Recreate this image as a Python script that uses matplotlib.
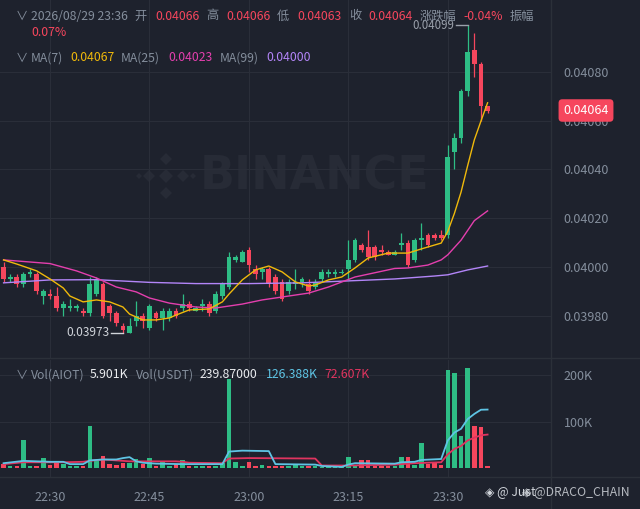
import numpy as np
import matplotlib
matplotlib.use('Agg')
import matplotlib.pyplot as plt
from matplotlib.patches import Polygon
from matplotlib.lines import Line2D

plt.rcParams['font.family'] = ['Noto Sans CJK SC', 'DejaVu Sans']

# candles, index = minutes from 22:30 (1m bars 22:23 .. 23:36)
idx = np.arange(-7, 67)
opens = [0.04000, 0.03995, 0.03996, 0.03993, 0.03997, 0.03997, 0.03988, 0.03989, 0.03988, 0.03983,
         0.03983, 0.03983, 0.03982, 0.03981, 0.03989, 0.03993, 0.03984, 0.03981, 0.03976, 0.03973,
         0.03978, 0.03980, 0.03975, 0.03981, 0.03979, 0.03979, 0.03982, 0.03983, 0.03985, 0.03982,
         0.03984, 0.03985, 0.03982, 0.03988, 0.03992, 0.04003, 0.04002, 0.04007, 0.03999, 0.03998,
         0.03999, 0.03996, 0.03994, 0.03990, 0.03993, 0.03994, 0.03993, 0.03992, 0.03995, 0.03997,
         0.03997, 0.039975, 0.03999, 0.04003, 0.04009, 0.04008, 0.04008, 0.04007, 0.04006, 0.04005,
         0.04009, 0.04010, 0.04003, 0.04011, 0.04013, 0.04013, 0.04013, 0.04013, 0.04047, 0.04053,
         0.04072, 0.04089, 0.04083, 0.04066]
highs = [0.04002, 0.03997, 0.03997, 0.03998, 0.03999, 0.03998, 0.03991, 0.03991, 0.03992, 0.03986,
         0.03987, 0.03985, 0.03983, 0.03996, 0.03996, 0.03994, 0.03985, 0.03982, 0.03977, 0.03979,
         0.03986, 0.03981, 0.03985, 0.03982, 0.03983, 0.03983, 0.03983, 0.03989, 0.03986, 0.03984,
         0.03987, 0.03986, 0.03990, 0.03994, 0.04006, 0.04005, 0.04007, 0.04008, 0.04001, 0.04000,
         0.04000, 0.03997, 0.03995, 0.03995, 0.03999, 0.03996, 0.03995, 0.03995, 0.03999, 0.03999,
         0.03999, 0.03999, 0.04011, 0.04012, 0.04010, 0.04015, 0.04009, 0.04009, 0.04007, 0.04007,
         0.04014, 0.04011, 0.04012, 0.04018, 0.04014, 0.04014, 0.04015, 0.04050, 0.04055, 0.04073,
         0.04099, 0.04096, 0.04084, 0.04066]
lows = [0.03994, 0.03994, 0.03992, 0.03992, 0.03996, 0.03989, 0.03985, 0.03987, 0.03982, 0.03980,
        0.03982, 0.03982, 0.03980, 0.03980, 0.03988, 0.03979, 0.03978, 0.03976, 0.03973, 0.03973,
        0.03976, 0.03975, 0.03974, 0.03978, 0.03974, 0.03978, 0.03979, 0.03982, 0.03982, 0.03982,
        0.03982, 0.03980, 0.03981, 0.03987, 0.03991, 0.04002, 0.04002, 0.03998, 0.03995, 0.03995,
        0.03992, 0.03989, 0.03986, 0.03989, 0.03991, 0.03992, 0.03989, 0.03991, 0.03994, 0.03996,
        0.03996, 0.03997, 0.03995, 0.04002, 0.04006, 0.04003, 0.04003, 0.04005, 0.04005, 0.04005,
        0.04007, 0.04000, 0.04002, 0.04007, 0.04008, 0.04011, 0.04011, 0.04012, 0.04040, 0.04051,
        0.04070, 0.04078, 0.04060, 0.04063]
closes = [0.03995, 0.03996, 0.03993, 0.03997, 0.03998, 0.03990, 0.03990, 0.03988, 0.03983, 0.03985,
          0.03984, 0.03984, 0.03981, 0.03993, 0.03995, 0.03980, 0.03981, 0.03977, 0.03974, 0.03976,
          0.03980, 0.03978, 0.03984, 0.03979, 0.03982, 0.03982, 0.03980, 0.03985, 0.03983, 0.03983,
          0.03985, 0.03981, 0.03989, 0.03993, 0.04004, 0.04004, 0.04006, 0.04001, 0.03997, 0.03999,
          0.03993, 0.03990, 0.03987, 0.03994, 0.03994, 0.03995, 0.03990, 0.03994, 0.03998, 0.03998,
          0.03998, 0.03998, 0.04003, 0.04011, 0.04007, 0.04004, 0.04004, 0.04006, 0.04005, 0.04006,
          0.04010, 0.04001, 0.04011, 0.04012, 0.04009, 0.04012, 0.04012, 0.04045, 0.04053, 0.04072,
          0.04088, 0.04083, 0.04066, 0.04064]
volumes = [9, 6, 6, 61, 4, 4, 22, 7, 13, 9, 4, 4, 4, 92, 16, 27, 9, 7, 11, 11,
           20, 9, 22, 6, 13, 5, 9, 18, 6, 4, 6, 6, 6, 11, 192, 14, 4, 13, 5, 7,
           4, 5, 4, 6, 10, 5, 4, 4, 3, 3, 2, 3, 24, 6, 17, 17, 6, 5, 6, 4,
           25, 25, 8, 55, 10, 14, 7, 212, 204, 70, 216, 92, 88, 5.9]

# moving averages (index, value)
ma7_idx = [-7, -5, -2, 0, 2, 3, 5, 7, 9, 11, 12, 14, 16, 18, 19, 21, 24, 26, 27, 29, 31, 33, 35,
           37, 39, 40, 42, 44, 46, 48, 51, 54, 56, 59, 60, 61, 62, 63, 64, 65, 66]
ma7_val = [0.040029, 0.040012, 0.039984, 0.039951, 0.039914, 0.039881, 0.039857, 0.039865, 0.039857,
           0.039836, 0.039807, 0.039783, 0.039783, 0.039791, 0.039803, 0.039824, 0.039828, 0.039857,
           0.039889, 0.039947, 0.039988, 0.040004, 0.039980, 0.039939, 0.039922, 0.039926, 0.039947,
           0.039959, 0.039996, 0.040037, 0.040057, 0.040057, 0.040074, 0.040098, 0.040146, 0.040220,
           0.040307, 0.040416, 0.040521, 0.040598, 0.040673]
ma25_idx = [-7, 0, 4, 7, 10, 13, 15, 18, 22, 25, 29, 32, 36, 39, 42, 46, 52, 54, 57, 59,
            60, 61, 62, 63, 64, 65, 66]
ma25_val = [0.040029, 0.040014, 0.039984, 0.039955, 0.039918, 0.039898, 0.039873, 0.039852, 0.039836,
            0.039832, 0.039848, 0.039865, 0.039881, 0.039893, 0.039918, 0.039959, 0.039994, 0.039996,
            0.040008, 0.040029, 0.040050, 0.040080, 0.040110, 0.040150, 0.040190, 0.040210, 0.040230]
ma99_idx = [-7, 0, 7, 15, 22, 30, 38, 45, 52, 58, 60, 63, 66]
ma99_val = [0.039935, 0.039947, 0.039948, 0.039937, 0.039932, 0.039932, 0.039935, 0.039943,
            0.039951, 0.039963, 0.039968, 0.039988, 0.040004]

vma5_idx = [-7, -4, 0, 2, 3, 5, 6, 8, 10, 11, 12, 13, 14, 16, 20, 26, 27, 29, 33, 34, 40, 41, 44,
            45, 46, 52, 53, 55, 56, 59, 60, 61, 62, 63, 64, 65, 66]
vma5_val = [11, 16, 14, 14, 9, 9, 17, 19, 19, 22, 24, 15, 12, 10, 9, 9, 36, 38, 37, 9, 8, 5, 3,
            8, 11, 10, 13, 14, 18, 20, 60, 77, 85, 106, 117, 126, 126.388]
vma10_idx = [-7, -4, 2, 5, 6, 8, 10, 12, 19, 20, 21, 26, 27, 30, 40, 41, 45, 52, 55, 59, 60, 61,
             62, 63, 64, 65, 66]
vma10_val = [9, 13, 13, 14, 16, 19, 17, 15, 15, 14, 12, 11, 21, 22, 21, 6, 6, 8, 11, 13, 30, 42,
             48, 60, 66, 71, 72.607]

time_ticks = [0, 15, 30, 45, 60]
time_labels = ['22:30', '22:45', '23:00', '23:15', '23:30']
price_ticks = [0.0398, 0.0400, 0.0402, 0.0404, 0.0406, 0.0408]

BG = '#1e222d'
GRID = '#2a2e39'
GRAY = '#848e9c'
GREEN = '#2ebd85'
RED = '#f6465d'
W = 640
H = 509


def fx(x):
    return x / W


def fy(y):
    return 1 - y / H


fig = plt.figure(figsize=(6.4, 5.09), dpi=100, facecolor=BG)

# watermark layer
bg = fig.add_axes([0, 0, 1, 1], zorder=0)
bg.set_xlim(0, W)
bg.set_ylim(H, 0)
bg.axis('off')
wm = '#272b36'
cx, cy = 166, 176
for dx, dy, r in [(0, 0, 7), (0, -17, 6), (0, 17, 6), (-17, 0, 6), (17, 0, 6), (-27, 0, 3), (27, 0, 3)]:
    bg.add_patch(Polygon([(cx + dx, cy + dy - r), (cx + dx + r, cy + dy), (cx + dx, cy + dy + r),
                          (cx + dx - r, cy + dy)], closed=True, fc=wm, ec='none'))
bg.text(200, 177, 'BINANCE', fontsize=33, fontweight='bold', color=wm, va='center', ha='left',
        family=['DejaVu Sans'])

ax = fig.add_axes([0, fy(358), 551 / W, 358 / H], zorder=1)
vax = fig.add_axes([0, fy(477), 551 / W, (477 - 360) / H], zorder=1)

opens = np.array(opens)
closes = np.array(closes)
highs = np.array(highs)
lows = np.array(lows)
up = closes >= opens
colors = np.where(up, GREEN, RED)

bottoms = np.minimum(opens, closes)
heights = np.maximum(np.abs(closes - opens), 0.000004)
ax.vlines(idx, lows, highs, colors=colors, linewidth=0.9, zorder=3)
ax.bar(idx, heights, bottom=bottoms, width=0.72, color=colors, linewidth=0, zorder=4)

ax.plot(ma99_idx, ma99_val, color='#b385f8', lw=1.0, zorder=5)
ax.plot(ma25_idx, ma25_val, color='#e43fae', lw=1.0, zorder=5)
ax.plot(ma7_idx, ma7_val, color='#f0b90b', lw=1.0, zorder=5)

# high / low markers
hi_i = int(np.argmax(highs))
lo_i = int(np.argmin(lows))
ax.plot([idx[hi_i] - 1.7, idx[hi_i]], [highs[hi_i]] * 2, color='#9aa0aa', lw=1.0, zorder=5)
ax.text(idx[hi_i] - 2.1, highs[hi_i], f'{highs[hi_i]:.5f}', color='#9aa0aa', fontsize=8.3,
        ha='right', va='center', zorder=6)
ax.plot([idx[lo_i] - 1.8, idx[lo_i]], [lows[lo_i]] * 2, color='#d0d4da', lw=1.0, zorder=5)
ax.text(idx[lo_i] - 2.1, lows[lo_i], f'{lows[lo_i]:.5f}', color='#d0d4da', fontsize=8.6,
        ha='right', va='center', zorder=6)

xlim = (-50 / 6.63, (551 - 50) / 6.63)
ax.set_xlim(*xlim)
ax.set_ylim(0.0396270, 0.0410943)
ax.set_facecolor('none')
ax.yaxis.tick_right()
ax.set_yticks(price_ticks)
ax.set_yticklabels([f'{p:.5f}' for p in price_ticks])
ax.set_xticks(time_ticks)
ax.set_xticklabels([])
ax.tick_params(length=0, labelsize=9, labelcolor=GRAY, pad=9)
ax.grid(True, color=GRID, lw=0.8)
for s in ax.spines.values():
    s.set_visible(False)

# volume
volumes = np.array(volumes) * 1000
vax.bar(idx, volumes, width=0.68, color=colors, linewidth=0, zorder=3)
vax.plot(vma10_idx, np.array(vma10_val) * 1000, color='#e0345f', lw=1.3, zorder=4)
vax.plot(vma5_idx, np.array(vma5_val) * 1000, color='#5ec4e4', lw=1.3, zorder=4)
vax.set_xlim(*xlim)
vax.set_ylim(-18700, 233000)
vax.set_facecolor('none')
vax.yaxis.tick_right()
vax.set_yticks([100000, 200000])
vax.set_yticklabels(['100K', '200K'])
vax.set_xticks(time_ticks)
vax.set_xticklabels(time_labels)
vax.tick_params(length=0, labelsize=9, labelcolor=GRAY, pad=9)
vax.tick_params(axis='x', pad=10)
vax.grid(True, color=GRID, lw=0.8)
for s in vax.spines.values():
    s.set_visible(False)

# panel separators
for y in (358, 477):
    fig.add_artist(Line2D([0, 1], [fy(y), fy(y)], color='#2b3039', lw=1.0))
fig.add_artist(Line2D([fx(551), fx(551)], [0, 1], color='#2b3039', lw=1.0))

# last price tag
fig.text(fx(586), fy(110.5), f'{closes[-1]:.5f}', color='white', fontsize=9, ha='center', va='center',
         bbox=dict(boxstyle='round,pad=0.38,rounding_size=0.3', fc=RED, ec='none'), zorder=10)


def row(y, items, size=8.8):
    for x, txt, col in items:
        fig.text(fx(x), fy(y), txt, color=col, fontsize=size, ha='left', va='center', zorder=10)


WHITE = '#eaecef'
row(16, [(16, '∨', GRAY), (31, '2026/08/29 23:36', GRAY), (134, '开', GRAY), (155, '0.04066', RED),
         (206, '高', GRAY), (226, '0.04066', RED), (277, '低', GRAY), (297, '0.04063', RED),
         (349, '收', GRAY), (368, '0.04064', RED), (420, '涨跌幅', GRAY), (463, '-0.04%', RED),
         (510, '振幅', GRAY)])
row(32, [(31, '0.07%', RED)])
row(58, [(16, '∨', GRAY), (31, 'MA(7)', GRAY), (70, '0.04067', '#f0b90b'), (121, 'MA(25)', GRAY),
         (168, '0.04023', '#e43fae'), (220, 'MA(99)', GRAY), (266, '0.04000', '#b385f8')])
row(375, [(16, '∨', GRAY), (31, 'Vol(AIOT)', GRAY), (90, '5.901K', WHITE), (136, 'Vol(USDT)', GRAY),
          (200, '239.87000', WHITE), (266, '126.388K', '#5ec4e4'), (324, '72.607K', '#e0345f')])

# platform watermark (two overlapping tags, as in the source screenshot)
fig.text(fx(485), fy(492), '◈ @ Just', color='#d0d4da', fontsize=8.8, va='center', zorder=10)
fig.text(fx(522), fy(492), '◈ @DRACO_CHAIN', color='#d0d4da', fontsize=8.8, va='center', zorder=10,
         alpha=0.85)

fig.savefig('out.png', dpi=100, facecolor=BG)
